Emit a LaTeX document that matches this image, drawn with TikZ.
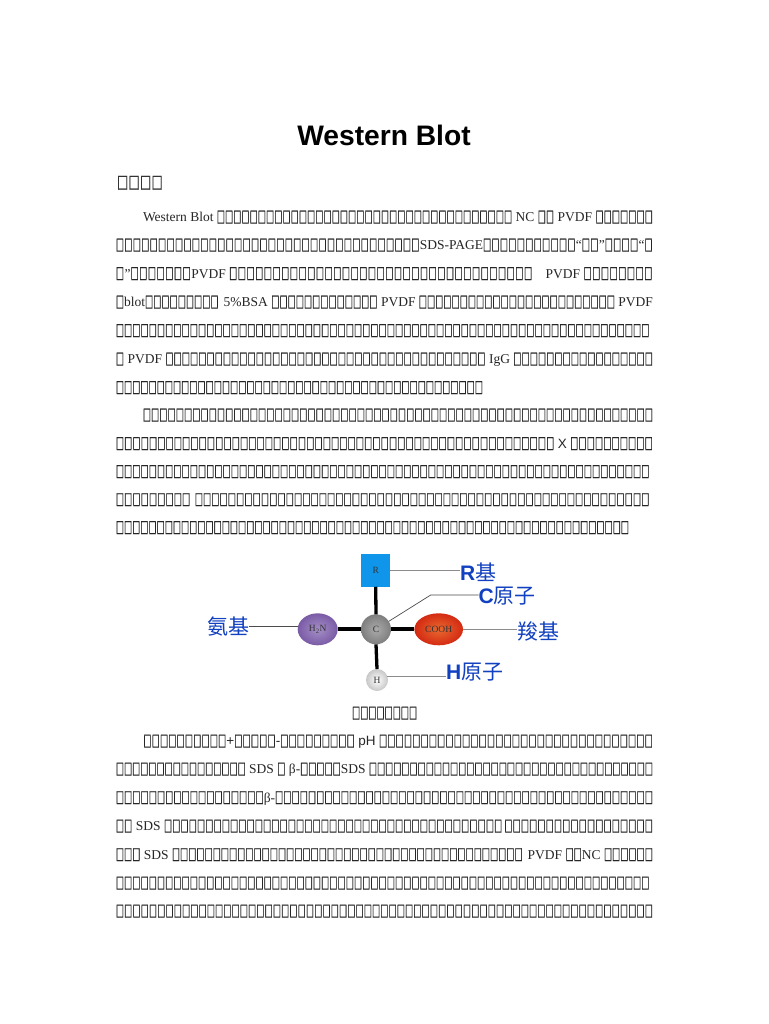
\documentclass[tikz,border=0pt]{standalone}
\usepackage{fontspec}
\setmainfont{Liberation Serif}
\newfontfamily\sansf{Liberation Sans}
\newfontfamily\tofub[FakeStretch=0.5,Scale=1.24,FakeBold=0.5]{DejaVu Sans}
\newfontfamily\tofuh[FakeStretch=0.64,Scale=1.2,FakeBold=0.5]{DejaVu Sans}
\let\tofucur\tofub
\newfontfamily\cjkf{Noto Sans CJK SC}
\usetikzlibrary{shapes.geometric}
\newcount\tc
\def\T#1{\tc=#1\relax\loop\ifnum\tc>0 {\tofucur □}\hskip 0pt plus 1fil minus 1fil\advance\tc -1 \repeat}
\def\s{\hskip 3.4pt\relax}
\newcommand\Ln[5]{\node[bodyline] (#1) at (#3,#2) {\hbox to \dimexpr #4pt-#3pt\relax{#5}};}
\definecolor{lblue}{HTML}{1140C0}
\definecolor{rblue}{HTML}{0F96EA}
\definecolor{purpin}{HTML}{A48FC6}
\definecolor{purpout}{HTML}{7A5BA6}
\definecolor{redin}{HTML}{E86A30}
\definecolor{redout}{HTML}{D42A12}
\definecolor{grayin}{HTML}{ABABAB}
\definecolor{grayout}{HTML}{7E7E7E}
\tikzset{
  bodyline/.style={anchor=base west,inner sep=0pt,outer sep=0pt,font=\fontsize{13.5}{16}\selectfont,text=black!85},
  atomtext/.style={font=\fontsize{9.5}{10}\selectfont,text=black!80,inner sep=0pt,outer sep=0pt},
  partlabel/.style={font=\fontsize{21}{24}\selectfont,text=lblue,inner sep=0pt},
  leader/.style={draw=black!45,line width=0.7pt},
  bond/.style={draw=black,line cap=butt},
}
\begin{document}
\begin{tikzpicture}[x=1pt,y=-1pt]
\useasboundingbox[fill=white] (0,0) rectangle (768,1024);
\node[font=\sansf\bfseries\fontsize{28.2}{32}\selectfont,inner sep=0pt] (title) at (384,135) {Western Blot};
\node[anchor=base west,inner sep=0pt,font=\fontsize{15}{18}\selectfont,text=black!80] (head) at (117,187.5) {\let\tofucur\tofuh\hbox to 46pt{\T{4}}};
% paragraph 1
\Ln{a1}{221.5}{143}{653}{Western Blot\s\T{36}\s NC\s\T{2}\s PVDF\s\T{7}}
\Ln{a2}{249.5}{116}{653}{\T{36}SDS-PAGE\T{11}“\T{2}”\T{4}“\T{1}}
\Ln{a3}{278}{116}{653}{\T{1}”\T{7}PVDF\s\T{35}\hskip 13pt PVDF\s\T{8}}
\Ln{a4}{306.5}{116}{653}{\T{1}blot\T{9}\hskip 5pt 5\%BSA\s\T{13}\s PVDF\s\T{24}\s PVDF}
\Ln{a5}{335}{116}{649.5}{\T{65}}
\Ln{a6}{363.5}{116}{653}{\T{1}\s PVDF\s\T{39}\s IgG\s\T{17}}
\Ln{a7}{392}{116}{483}{\T{45}}
% paragraph 2
\Ln{b1}{419.5}{143}{653}{\T{62}}
\Ln{b2}{448}{116}{653}{\T{53}\s{\sansf X}\s\T{10}}
\Ln{b3}{476}{116}{649.5}{\T{65}}
\Ln{b4}{504}{116}{649.5}{\T{9}\hskip 4.5pt\T{55}}
\Ln{b5}{532}{116}{629}{\T{63}}
% figure: sticks are connected after the nodes are placed
\node[atomtext,fill=rblue,minimum width=28.7pt,minimum height=32.7pt] (R) at (375.7,570.4) {R};
\node[atomtext,circle,minimum size=30pt,inner color=grayin,outer color=grayout] (C) at (376,629.3) {C};
\node[atomtext,ellipse,minimum width=40pt,minimum height=32pt,inner color=purpin,outer color=purpout] (N) at (317.7,629.3) {H\textsubscript{2}N};
\node[atomtext,ellipse,minimum width=48.6pt,minimum height=32pt,inner color=redin,outer color=redout] (COOH) at (438.7,629.3) {COOH};
\node[atomtext,circle,minimum size=22pt,inner color=white,outer color=black!22] (H) at (377,680) {H};
\draw[bond,line width=3.3pt] (R.south) -- (C.north);
\draw[bond,line width=3.3pt] (C.south) -- (H.north);
\draw[bond,line width=4pt] (N.east) -- (C.west);
\draw[bond,line width=4pt] (C.east) -- (COOH.west);
\node[partlabel,anchor=west] (Rl) at (460,572.5) {{\sansf\bfseries R}{\cjkf 基}};
\node[partlabel,anchor=west] (Cl) at (478.5,596) {{\sansf\bfseries C}{\cjkf 原子}};
\node[partlabel,anchor=west] (Nl) at (207,627) {\cjkf 氨基};
\node[partlabel,anchor=west] (Kl) at (517,631) {\cjkf 羧基};
\node[partlabel,anchor=west] (Hl) at (446,672.5) {{\sansf\bfseries H}{\cjkf 原子}};
\coordinate (Cbend) at (430.7,595);
\draw[leader] (R.east) -- (R.east -| Rl.west);
\draw[leader,draw=black!70] (C.32) -- (Cbend) -- (Cbend -| Cl.west);
\draw[leader,draw=black!70] (Nl.east |- 0,626.7) -- (N.west |- 0,626.7);
\draw[leader] (COOH.east) -- (COOH.east -| Kl.west);
\draw[leader] (H.18) -- (H.18 -| Hl.west);
\node[anchor=base west,inner sep=0pt,font=\fontsize{13.5}{16}\selectfont,text=black!85] (cap) at (352,717.5) {\hbox to 65pt{\T{8}}};
% paragraph 3
\Ln{c1}{745.5}{143.5}{653}{\T{10}{\sansf +}\T{5}{\sansf -}\T{9}\s{\sansf pH}\s\T{33}}
\Ln{c2}{773.5}{116}{653}{\T{16}\s SDS\s\T{1}\s β-\T{5}SDS\s\T{35}}
\Ln{c3}{802}{116}{653}{\T{18}β-\T{46}}
\Ln{c4}{830.5}{116}{653}{\T{2}\s SDS\s\T{41}\hskip 2pt\T{18}}
\Ln{c5}{859}{116}{653}{\T{3}\s SDS\s\T{43}\hskip 5pt PVDF\s\T{2}NC\s\T{6}}
\Ln{c6}{887.5}{116}{649.5}{\T{65}}
\Ln{c7}{915.5}{116}{653}{\T{65}}
\end{tikzpicture}
\end{document}
